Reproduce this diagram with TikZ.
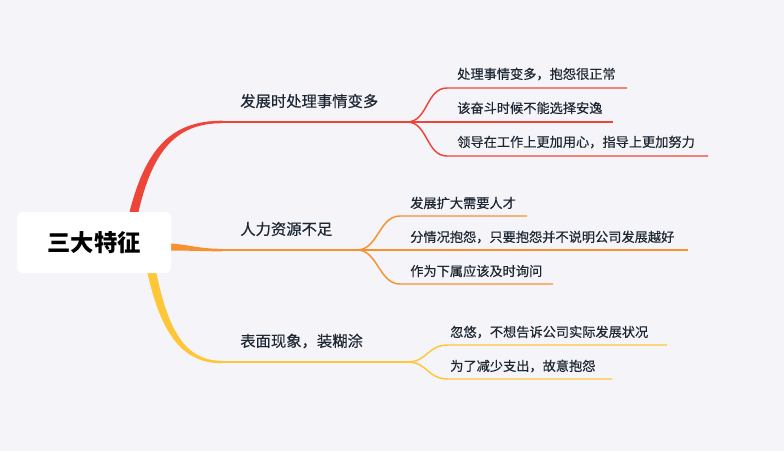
\documentclass[tikz,border=0pt]{standalone}
\usepackage{fontspec}
\setmainfont{Noto Sans CJK SC}
\newfontfamily\medfont{Noto Sans CJK SC}[FakeBold=0.35]
\definecolor{bg}{HTML}{F5F5F9}
\definecolor{cRed}{HTML}{EF4438}
\definecolor{cOrg}{HTML}{F7912F}
\definecolor{cYel}{HTML}{FEC73A}
\definecolor{txt}{HTML}{1D2733}
\tikzset{
  rootbox/.style={fill=white, rounded corners=4.5pt, minimum width=115.5pt, minimum height=45.75pt, inner sep=0pt, font=\fontsize{17.5}{20}\selectfont\bfseries, text=black},
  mainlab/.style={anchor=west, inner sep=0pt, text=txt, font=\medfont\fontsize{11.5}{14}\selectfont},
  sublab/.style={anchor=west, inner sep=0pt, text=txt, font=\medfont\fontsize{9.9}{12}\selectfont},
  mainline/.style={line width=1.5pt},
  subline/.style={line width=1.1pt}
}
\begin{document}
\begin{tikzpicture}[x=0.75pt,y=-0.75pt]
\fill[bg] (0,0) rectangle (784,451);
\useasboundingbox (0,0) rectangle (784,451);

% coordinates
\coordinate (f1) at (407,122);
\coordinate (f2) at (357,250);
\coordinate (f3) at (407,362);

% tapered main branches
\fill[cRed] (129,214) .. controls (145,150) and (170,120.7) .. (222,120.7) -- (222,123.2) .. controls (175,123.2) and (152,152) .. (138,214) -- cycle;
\fill[cOrg] (171,243.5) .. controls (190,245) and (200,248.8) .. (222,248.8) -- (222,251.3) .. controls (200,251.3) and (190,250.5) .. (171,250.5) -- cycle;
\fill[cYel] (147,271) .. controls (160,330) and (180,363.3) .. (222,363.3) -- (222,360.8) .. controls (185,360.8) and (168,330) .. (156,271) -- cycle;

% main label lines
\draw[cRed, mainline] (220,122) -- (f1);
\draw[cOrg, mainline] (220,250) -- (f2);
\draw[cYel, mainline] (220,362) -- (f3);

% root
\node[rootbox] (root) at (94,242.5) {三大特征};

% main labels
\node[mainlab] (m1) at (240,101) {发展时处理事情变多};
\node[mainlab] (m2) at (240,229) {人力资源不足};
\node[mainlab] (m3) at (240,341) {表面现象，装糊涂};

% branch 1 children
\coordinate (e11) at (627,88);
\coordinate (e12) at (613,122);
\coordinate (e13) at (708,156);
\draw[cRed, subline] (f1) .. controls (428,122) and (426,88) .. (447,88) -- (e11);
\draw[cRed, subline] (f1) -- (e12);
\draw[cRed, subline] (f1) .. controls (428,122) and (426,156) .. (447,156) -- (e13);
\node[sublab] (s11) at (457,74) {处理事情变多，抱怨很正常};
\node[sublab] (s12) at (457,108) {该奋斗时候不能选择安逸};
\node[sublab] (s13) at (457,142) {领导在工作上更加用心，指导上更加努力};

% branch 2 children
\coordinate (e21) at (527,216);
\coordinate (e22) at (688,250);
\coordinate (e23) at (553,284);
\draw[cOrg, subline] (f2) .. controls (378,250) and (379,216) .. (400,216) -- (e21);
\draw[cOrg, subline] (f2) -- (e22);
\draw[cOrg, subline] (f2) .. controls (378,250) and (379,284) .. (400,284) -- (e23);
\node[sublab] (s21) at (410,203) {发展扩大需要人才};
\node[sublab] (s22) at (410,237) {分情况抱怨，只要抱怨并不说明公司发展越好};
\node[sublab] (s23) at (410,271) {作为下属应该及时询问};

% branch 3 children
\coordinate (e31) at (667,345);
\coordinate (e32) at (612,379);
\draw[cYel, subline] (f3) .. controls (428,362) and (427,345) .. (448,345) -- (e31);
\draw[cYel, subline] (f3) .. controls (428,362) and (427,379) .. (448,379) -- (e32);
\node[sublab] (s31) at (450,332) {忽悠，不想告诉公司实际发展状况};
\node[sublab] (s32) at (450,366) {为了减少支出，故意抱怨};
\end{tikzpicture}
\end{document}
